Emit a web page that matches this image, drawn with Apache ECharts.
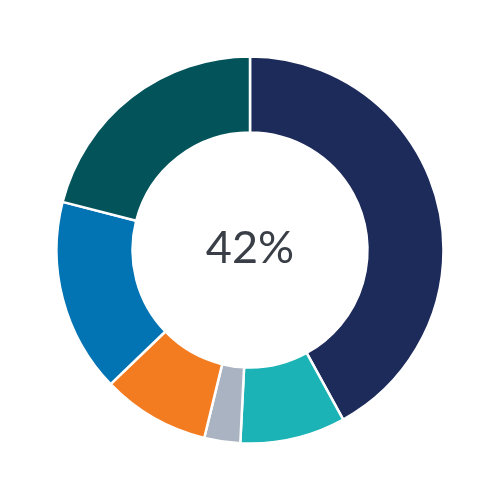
<!DOCTYPE html>
<html>
<head>
<meta charset="utf-8">
<script src="https://cdn.jsdelivr.net/npm/echarts@6/dist/echarts.min.js"></script>
<style>html,body{margin:0;padding:0;background:#fff}#c{width:500px;height:500px}</style>
</head>
<body>
<div id="c"></div>
<script>
const categories = ['A', 'B', 'C', 'D', 'E', 'F'];
const values = [42, 8.8, 3, 9, 16.2, 21];
const colors = ['#1d2b5b', '#1bb3b5', '#a9b3c1', '#f47c20', '#0273b3', '#02545a'];
const centerLabel = '42%';

const chart = echarts.init(document.getElementById('c'), null, {renderer: 'canvas'});
chart.setOption({
  animation: false,
  backgroundColor: '#ffffff',
  graphic: [{
    type: 'text',
    left: 'center',
    top: 226,
    style: {text: centerLabel, font: '400 45px Lato', fill: '#3a3f47'}
  }],
  series: [{
    type: 'pie',
    center: ['50%', '50%'],
    radius: ['47%', '77.4%'],
    startAngle: 90,
    clockwise: true,
    label: {show: false},
    labelLine: {show: false},
    emphasis: {disabled: true},
    itemStyle: {borderColor: '#ffffff', borderWidth: 2.5},
    data: categories.map((c, i) => ({name: c, value: values[i], itemStyle: {color: colors[i]}}))
  }]
});
</script>
</body>
</html>
